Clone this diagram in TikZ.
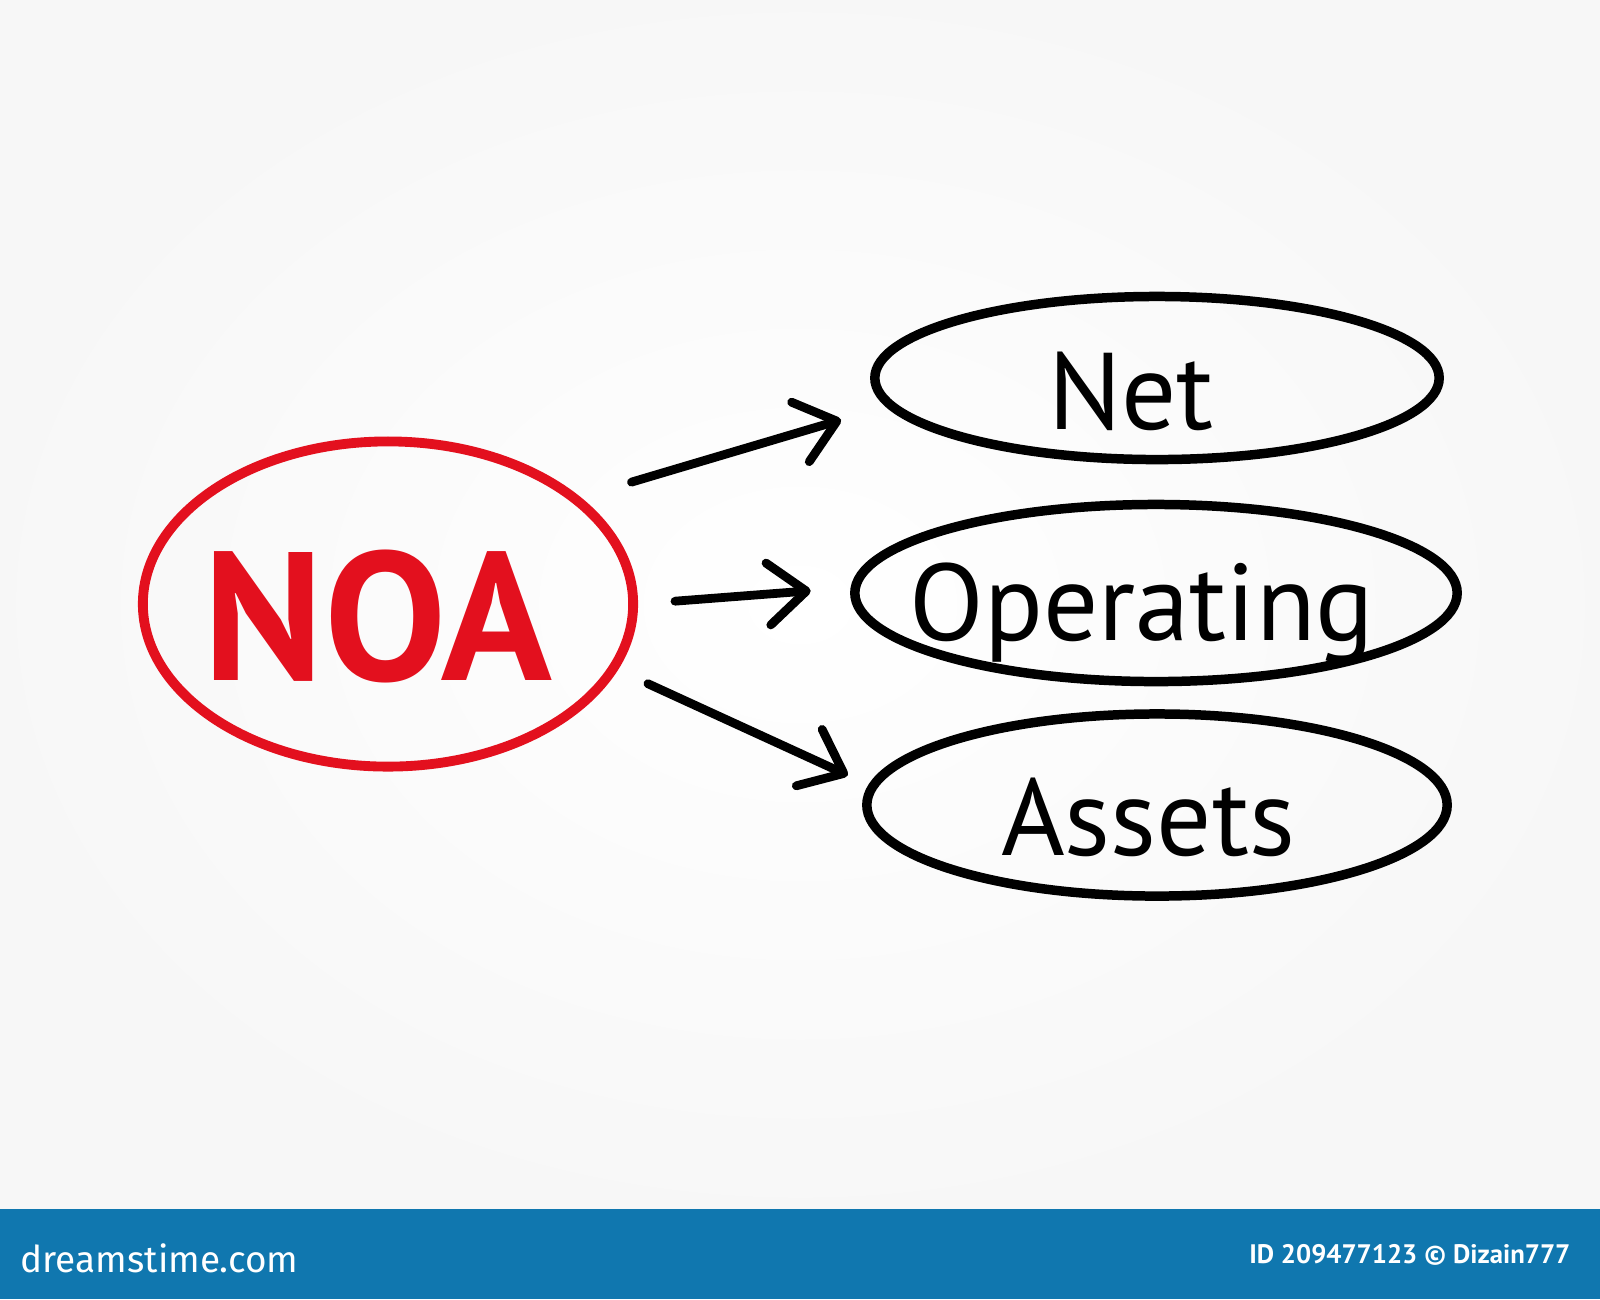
\documentclass[tikz,border=0pt]{standalone}
\usepackage{fontspec}
\usepackage{tikz}
\usetikzlibrary{shapes.geometric,arrows.meta}
\newfontfamily\markerfont{PT Sans}
\newfontfamily\bannerfont{Fira Sans}
\definecolor{noared}{HTML}{E3101E}
\definecolor{bannerblue}{HTML}{1077AF}

\begin{document}
\begin{tikzpicture}[x=0.01cm, y=-0.01cm,
  bubble/.style={ellipse, draw=black, line width=2.7pt, inner sep=0pt},
  word/.style={anchor=base, inner sep=0pt, font=\markerfont\fontsize{31}{31}\selectfont},
  arrow/.style={line width=2.5pt, line cap=round, -{Straight Barb[length=0.38cm, width=0.62cm, round]}}]
  \useasboundingbox (0,0) rectangle (1600,1299);
  \shade[inner color=white, outer color=gray!6] (0,0) rectangle (1600,1209);
  \fill[bannerblue] (0,1209) rectangle (1600,1299);

  % acronym
  \node[bubble, draw=noared, line width=2.8pt, minimum width=4.9cm, minimum height=3.25cm] (noa) at (388,604) {};
  \node[word, text=noared, font=\markerfont\bfseries\fontsize{52}{52}\selectfont] (noaword) at (378,680) {NOA};

  % the three words
  \node[bubble, minimum width=5.64cm, minimum height=1.63cm] (net) at (1157,378) {};
  \node[word] (netword) at (1131,429) {Net};

  \node[bubble, minimum width=6.02cm, minimum height=1.77cm] (operating) at (1156,593) {};
  \node[word] (operatingword) at (1142,640) {Operating};

  \node[bubble, minimum width=5.8cm, minimum height=1.82cm] (assets) at (1157,805) {};
  \node[word] (assetsword) at (1148,855) {Assets};

  % arrows
  \draw[arrow, shorten <=0.53cm, shorten >=0.47cm] (noa.29) -- (net.186);
  \draw[arrow, shorten <=0.37cm, shorten >=0.40cm] (noa.0) -- (operating.179);
  \draw[arrow, shorten <=0.33cm, shorten >=0.23cm] (noa.344) -- (assets.176);

  % banner
  \node[anchor=base west, inner sep=0pt, text=white, font=\bannerfont\fontsize{10.5}{10.5}\selectfont] (site) at (20,1272) {dreamstime.com};
  \node[anchor=base east, inner sep=0pt, text=white, font=\markerfont\bfseries\fontsize{7.6}{7.6}\selectfont] (credit) at (1571,1263) {ID 209477123 © Dizain777};
\end{tikzpicture}
\end{document}
